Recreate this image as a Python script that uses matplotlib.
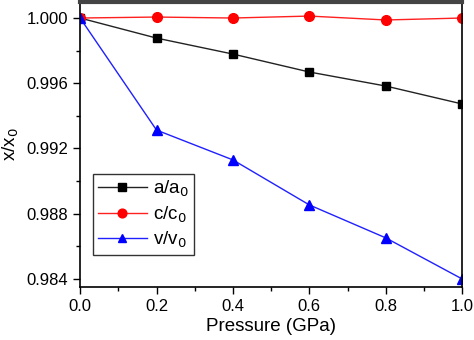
import numpy as np
import matplotlib.pyplot as plt
from matplotlib.ticker import MultipleLocator

plt.rcParams['font.family'] = ['Liberation Sans', 'DejaVu Sans']

# data
pressure = [0.0, 0.2, 0.4, 0.6, 0.8, 1.0]
a_ratio = [1.0000, 0.99877, 0.99779, 0.99669, 0.99583, 0.99473]
c_ratio = [1.0000, 1.00006, 1.00000, 1.00012, 0.99988, 1.00000]
v_ratio = [1.0000, 0.99313, 0.99130, 0.98854, 0.98652, 0.98400]

fig = plt.figure(figsize=(4.74, 3.4), dpi=100)
ax = fig.add_axes([0.169, 0.156, 0.806, 0.838])

ax.plot(pressure, a_ratio, color='#222222', lw=1, marker='s', ms=6,
        mfc='black', mec='black', label='a/a$_0$')
ax.plot(pressure, c_ratio, color='#ff2020', lw=1, marker='o', ms=7,
        mfc='#ff0000', mec='#ff0000', label='c/c$_0$')
ax.plot(pressure, v_ratio, color='#2020ff', lw=1, marker='^', ms=7,
        mfc='#0000ff', mec='#0000ff', label='v/v$_0$')

ax.set_xlim(0, 1.0)
ax.set_ylim(0.98351, 1.00098)
ax.xaxis.set_major_locator(MultipleLocator(0.2))
ax.xaxis.set_minor_locator(MultipleLocator(0.1))
ax.yaxis.set_major_locator(MultipleLocator(0.004))
ax.yaxis.set_minor_locator(MultipleLocator(0.002))
ax.xaxis.set_major_formatter(plt.FormatStrFormatter('%.1f'))
ax.yaxis.set_major_formatter(plt.FormatStrFormatter('%.3f'))
ax.tick_params(which='both', direction='out', top=False, right=False, width=1)
ax.tick_params(which='major', length=5, labelsize=12)
ax.tick_params(which='minor', length=3)
for s in ax.spines.values():
    s.set_linewidth(1.2)
ax.spines['top'].set_linewidth(3)
ax.spines['top'].set_color('#444444')

ax.set_xlabel('Pressure (GPa)', fontsize=13.5, labelpad=3)
ax.set_ylabel('x/x$_0$', fontsize=13.5, labelpad=4)

leg = ax.legend(loc='lower left', bbox_to_anchor=(0.034, 0.112), fontsize=13.5,
                frameon=True, fancybox=False, edgecolor='black',
                handlelength=2.6, borderpad=0.25, labelspacing=0.28,
                handletextpad=0.35, borderaxespad=0, markerscale=0.9)
leg.get_frame().set_linewidth(1)

fig.savefig('out.png', dpi=100)
